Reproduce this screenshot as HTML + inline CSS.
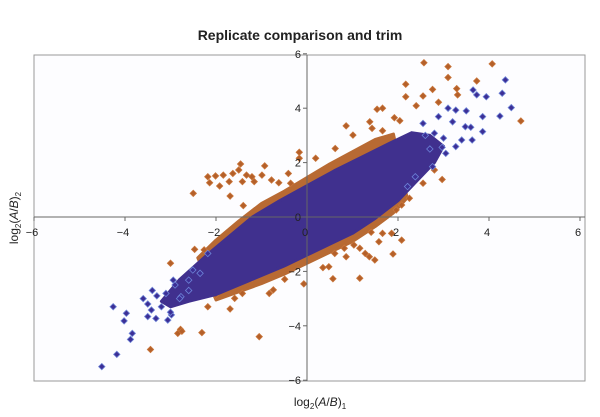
<!DOCTYPE html>
<html><head><meta charset="utf-8"><style>
body{margin:0;background:#fff;width:600px;height:417px;overflow:hidden}
svg{display:block;font-family:"Liberation Sans",Arial,sans-serif}
</style></head><body>
<svg id="chart" width="600" height="417" viewBox="0 0 600 417">
<rect x="0" y="0" width="600" height="417" fill="#fff"/>
<text x="300" y="40" text-anchor="middle" font-size="14" font-weight="bold" fill="#222">Replicate comparison and trim</text>
<rect x="34" y="55" width="551" height="326" fill="#fdfdff" stroke="#999" stroke-width="1"/>
<g id="marks"></g>
<g id="axes"></g>
<text x="320" y="406" text-anchor="middle" font-size="12" fill="#222">log<tspan font-size="8" dy="3">2</tspan><tspan dy="-3">(</tspan><tspan font-style="italic">A</tspan>/<tspan font-style="italic">B</tspan>)<tspan font-size="8" dy="3">1</tspan></text>
<text transform="translate(18,218) rotate(-90)" text-anchor="middle" font-size="12" fill="#222">log<tspan font-size="8" dy="3">2</tspan><tspan dy="-3">(</tspan><tspan font-style="italic">A</tspan>/<tspan font-style="italic">B</tspan>)<tspan font-size="8" dy="3">2</tspan></text>
</svg>
<script>
const xTicks=[-6,-4,-2,0,2,4,6];
const yTicks=[-6,-4,-2,0,2,4,6];
const coreUpper=[[-3.2,-3.1],[-2.8,-2.3],[-2.2,-1.4],[-1.7,-0.7],[-1.2,0.0],[-0.6,0.6],[0,1.15],[0.6,1.7],[1.2,2.2],[1.8,2.7],[2.3,3.1],[2.7,3.0],[3.0,2.6]];
const coreLower=[[2.8,2.0],[2.4,1.3],[2.0,0.6],[1.5,-0.05],[1.0,-0.6],[0.5,-1.0],[0,-1.4],[-0.5,-1.8],[-1.0,-2.15],[-1.5,-2.5],[-2.0,-2.85],[-2.6,-3.1],[-3.0,-3.3]];
const bandUpper=[[-2.4,-1.5],[-2.0,-0.85],[-1.5,-0.15],[-1.0,0.5],[-0.5,0.95],[0,1.45],[0.5,1.95],[1.0,2.4],[1.5,2.85],[1.9,3.05]];
const bandLower=[[2.2,0.7],[1.9,0.15],[1.5,-0.35],[1.0,-0.9],[0.5,-1.3],[0,-1.7],[-0.5,-2.1],[-1.0,-2.45],[-1.5,-2.75],[-2.0,-3.05]];
const orangeX=[2.57,3.1,4.07,3.1,2.17,3.73,2.76,3.29,3.31,2.55,2.17,2.89,2.4,1.54,1.66,4.7,0.86,1.38,1.92,2.04,1.43,1.66,1.01,0.62,-0.17,0.19,2.8,2.55,2.97,2.04,2.25,2.08,1.96,-1.46,-0.93,-2.18,-2.01,-1.84,-1.63,-1.5,-1.33,-1.21,-2.14,-1.92,-1.71,-1.42,-1.16,-0.99,-0.62,-0.41,-0.36,-0.17,-2.5,-1.69,-1.4,-0.78,-2.47,-2.26,-3.0,-2.18,-1.69,-2.78,-2.84,-2.75,-2.31,-3.44,-1.05,-0.74,-0.49,-0.07,0.57,1.16,0.35,0.48,1.89,1.49,1.37,1.58,1.66,1.41,1.03,0.82,1.16,1.28,0.86,0.61,-0.83,-1.59,-1.42,-2.01,-1.69,-1.46,-1.21,2.08,1.86];
const orangeY=[5.67,5.53,5.63,5.13,4.88,5.0,4.69,4.72,4.49,4.45,4.42,4.22,4.09,3.96,4.0,3.53,3.35,3.5,3.65,3.54,3.26,3.17,3.01,2.52,2.38,2.16,1.73,1.24,1.38,1.05,0.69,0.44,0.26,1.95,1.88,1.48,1.51,1.54,1.6,1.73,1.54,1.48,1.26,1.14,1.3,1.3,1.3,1.54,1.26,1.6,1.24,2.16,0.87,0.77,0.42,1.36,-1.19,-1.21,-1.7,-3.3,-3.38,-4.13,-4.28,-4.2,-4.25,-4.87,-4.4,-2.68,-2.29,-2.46,-2.27,-2.25,-1.86,-1.83,-1.36,-1.58,-1.46,-0.91,-0.6,-0.56,-1.03,-1.15,-1.15,-1.34,-1.46,-1.34,-2.81,-2.99,-2.81,-2.87,-2.07,-2.32,-2.25,-0.85,-0.6];
const blueX=[-4.51,-4.18,-4.26,-3.97,-4.02,-3.88,-3.84,-3.5,-3.42,-3.32,-3.06,-2.98,-3.1,-2.94,-2.77,-2.6,-2.51,-2.35,-2.18,4.36,4.29,4.49,4.24,3.94,3.73,3.65,3.86,3.86,3.63,3.27,3.05,2.97,3.48,3.27,3.1,2.89,2.55,2.76,2.38,2.21,3.4,2.8,3.2,3.5,3.0,2.7,3.6,2.6,-3.5,-3.3,-3.0,-2.8,-2.6,-3.6,-3.2,-3.4,-2.9];
const blueY=[-5.5,-5.05,-3.3,-3.54,-3.82,-4.5,-4.28,-3.66,-3.42,-3.73,-3.79,-3.6,-2.81,-2.32,-2.93,-2.32,-1.95,-2.07,-1.34,5.04,4.55,4.02,3.71,4.42,4.49,4.67,3.69,3.14,2.83,2.59,2.34,2.56,3.32,3.93,4.0,3.69,3.44,1.85,1.48,1.12,2.83,3.08,3.5,3.9,2.9,2.5,3.3,3.0,-3.2,-2.9,-3.5,-3.0,-2.7,-3.0,-3.3,-2.7,-2.5];

const NS='http://www.w3.org/2000/svg';
const X0=307,XS=45.5,Y0=217,YS=27.2;
function sx(v){return X0+v*XS;}
function sy(v){return Y0-v*YS;}
const marks=document.getElementById('marks');
const axes=document.getElementById('axes');
function poly(up,low,fill,name){
  const p=document.createElementNS(NS,'polygon');
  p.setAttribute('points',up.concat(low).map(d=>sx(d[0])+','+sy(d[1])).join(' '));
  p.setAttribute('fill',fill);
  p.setAttribute('stroke',fill);
  p.setAttribute('stroke-width','3');
  p.setAttribute('stroke-linejoin','round');
  
  
  marks.appendChild(p);
}
function diamond(x,y,fill,stroke,name){
  const p=document.createElementNS(NS,'path');
  const cx=sx(x),cy=sy(y);
  p.setAttribute('d',`M${cx},${cy-3.2}L${cx+3.2},${cy}L${cx},${cy+3.2}L${cx-3.2},${cy}Z`);
  p.setAttribute('fill',fill);
  p.setAttribute('stroke',stroke);
  p.setAttribute('stroke-width','0.8');
  
  
  marks.appendChild(p);
}
poly(bandUpper,bandLower,'#b86a33','trimmed-band');
for(let i=0;i<orangeX.length;i++){diamond(orangeX[i],orangeY[i],'#b4602a','#c9753a','trimmed-point');}
poly(coreUpper,coreLower,'#40308e','retained-core');
for(let i=0;i<blueX.length;i++){diamond(blueX[i],blueY[i],'#3c2f96','#6d83d6','retained-point');}
function line(x1,y1,x2,y2,name){
  const l=document.createElementNS(NS,'line');
  l.setAttribute('x1',x1);l.setAttribute('y1',y1);l.setAttribute('x2',x2);l.setAttribute('y2',y2);
  l.setAttribute('stroke','#666');l.setAttribute('stroke-width','1');
  
  
  axes.appendChild(l);
}
function txt(x,y,s,anchor,name){
  const t=document.createElementNS(NS,'text');
  t.setAttribute('x',x);t.setAttribute('y',y);t.setAttribute('font-size','11');
  t.setAttribute('fill','#222');t.setAttribute('text-anchor',anchor);
  t.textContent=s;
  
  
  axes.appendChild(t);
}
line(34,sy(0),585,sy(0),'x-axis');
line(sx(0),55,sx(0),381,'y-axis');
xTicks.forEach(v=>{
  line(sx(v),sy(0),sx(v),sy(0)+4,'x-tick');
  txt(sx(v)-2,sy(0)+19,String(v).replace('-','\u2212'),'middle','x-tick-label');
});
yTicks.forEach(v=>{
  line(sx(0)-4,sy(v),sx(0),sy(v),'y-tick');
  txt(sx(0)-6,sy(v)+4,String(v).replace('-','\u2212'),'end','y-tick-label');
});
</script>
</body></html>
